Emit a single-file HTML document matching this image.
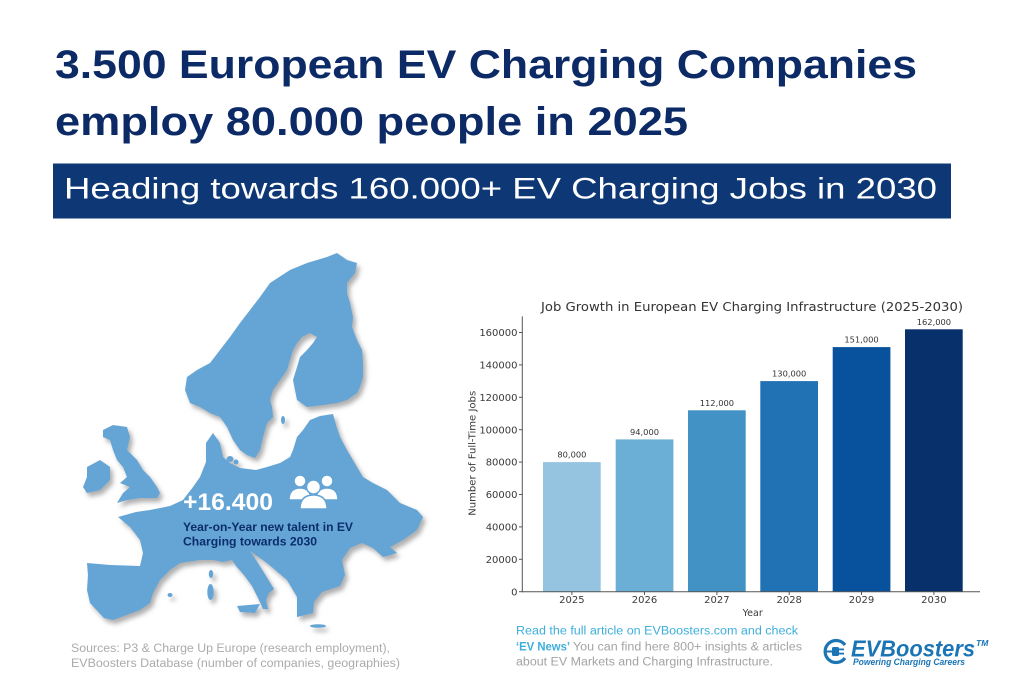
<!DOCTYPE html>
<html>
<head>
<meta charset="utf-8">
<style>
html,body{margin:0;padding:0;background:#fff;}
svg{display:block;}
</style>
</head>
<body>
<svg width="1024" height="688" viewBox="0 0 1024 688" xmlns="http://www.w3.org/2000/svg">
<defs>
<filter id="sh" x="-10%" y="-10%" width="130%" height="130%">
<feDropShadow dx="3" dy="4" stdDeviation="2.5" flood-color="#7a7a7a" flood-opacity="0.6"/>
</filter>
</defs>
<rect width="1024" height="688" fill="#fff"/>

<!-- Headline -->
<text x="55" y="78" font-family="Liberation Sans, sans-serif" font-weight="bold" font-size="40" fill="#0b2a66" textLength="862" lengthAdjust="spacingAndGlyphs">3.500 European EV Charging Companies</text>
<text x="55" y="135" font-family="Liberation Sans, sans-serif" font-weight="bold" font-size="40" fill="#0b2a66" textLength="633" lengthAdjust="spacingAndGlyphs">employ 80.000 people in 2025</text>

<rect x="53" y="163.5" width="898" height="55" fill="#0e3875"/>
<text x="64" y="198.5" font-family="Liberation Sans, sans-serif" font-size="30" fill="#fff" textLength="873" lengthAdjust="spacingAndGlyphs">Heading towards 160.000+ EV Charging Jobs in 2030</text>

<!-- Map -->
<g fill="#65a5d5" filter="url(#sh)">
<polygon points="270,283 290,270 307,263 327,257 337,253 347,260 357,263 355,273 347,283 347,293 350,303 353,317 352,327 357,340 362,350 363,363 363,377 360,387 357,393 347,400 337,403 323,405 307,407 297,400 295,390 293,380 297,367 300,357 307,350 313,343 317,337 310,333 302,337 297,343 293,350 290,360 287,370 280,380 273,390 270,400 272,407 273,417 267,423 263,437 260,450 255,458 247,455 240,450 233,440 227,427 220,417 210,413 200,407 190,403 185,390 187,377 197,370 210,363 220,350 230,337 240,323 250,310 260,297"/>
<polygon points="118,517 136,512 150,510 170,506 183,500 193,487 200,477 206,462 206,443 213,433 220,443 223,457 230,463 240,468 256,470 267,467 280,463 290,457 293,450 297,437 303,430 310,420 320,416 333,414 336,425 340,437 347,450 357,467 363,477 373,483 387,490 400,503 417,510 423,517 417,530 403,540 390,547 397,553 383,557 373,548 362,543 350,548 342,560 345,575 340,586 322,592 314,602 313,613 297,617 297,597 287,580 267,563 250,551 258,563 266,576 274,589 269,593 266,600 268,609 263,609 258,598 252,586 244,575 236,566 232,560 223,562 213,560 200,560 180,563 170,570 160,580 153,593 150,603 140,610 113,620 104,618 90,603 87,590 88,575 87,563 110,565 140,566 143,553 140,540 130,527"/>
<polygon points="103,430 113,425 127,427 130,437 127,450 137,460 143,470 150,477 157,487 160,493 157,498 140,498 127,500 117,503 123,493 130,487 120,483 127,477 123,467 117,460 113,450 110,440 103,437"/>
<polygon points="87,467 100,460 110,467 110,480 100,490 87,493 83,487 87,477"/>
<ellipse cx="211" cy="574" rx="2.2" ry="4"/>
<ellipse cx="210.5" cy="592" rx="3.2" ry="8"/>
<ellipse cx="170" cy="595" rx="2.5" ry="2"/>
<polygon points="237,606 260,604 255,613 240,612"/>
<ellipse cx="318" cy="626" rx="8" ry="1.8"/>
<ellipse cx="230" cy="459" rx="3.5" ry="3"/>
<ellipse cx="236" cy="462" rx="2.5" ry="2.5"/>
<ellipse cx="283" cy="420" rx="2" ry="4"/>
</g>

<!-- Map overlay text -->
<text x="183" y="510" font-family="Liberation Sans, sans-serif" font-weight="bold" font-size="24" fill="#fff" textLength="90" lengthAdjust="spacingAndGlyphs">+16.400</text>
<text x="183" y="531" font-family="Liberation Sans, sans-serif" font-weight="bold" font-size="11.5" fill="#0c2d6b" textLength="170" lengthAdjust="spacingAndGlyphs">Year-on-Year new talent in EV</text>
<text x="183" y="545.5" font-family="Liberation Sans, sans-serif" font-weight="bold" font-size="11.5" fill="#0c2d6b" textLength="134" lengthAdjust="spacingAndGlyphs">Charging towards 2030</text>

<!-- People icon -->
<g fill="#fff" stroke="#65a5d5" stroke-width="1.5">
<circle cx="300" cy="481" r="6"/>
<path d="M289,500 Q289,488 300,488 Q311,488 311,500 Z"/>
<circle cx="327" cy="481" r="6"/>
<path d="M316,500 Q316,488 327,488 Q338,488 338,500 Z"/>
<circle cx="313.5" cy="487" r="7"/>
<path d="M300,509 Q300,495 313.5,495 Q327,495 327,509 Z"/>
</g>

<!-- Sources -->
<text font-family="Liberation Sans, sans-serif" font-size="11.5" fill="#ababab">
<tspan x="71" y="652" textLength="319" lengthAdjust="spacingAndGlyphs">Sources: P3 &amp; Charge Up Europe (research employment),</tspan>
<tspan x="71" y="667" textLength="329" lengthAdjust="spacingAndGlyphs">EVBoosters Database (number of companies, geographies)</tspan>
</text>

<!-- Chart -->
<g font-family="DejaVu Sans, Liberation Sans, sans-serif" fill="#333">
<text x="752" y="311" font-size="12" text-anchor="middle" textLength="422" lengthAdjust="spacingAndGlyphs">Job Growth in European EV Charging Infrastructure (2025-2030)</text>

<!-- bars -->
<rect x="543" y="462.1" width="57.7" height="129.6" fill="#94c4df"/>
<rect x="615.7" y="439.4" width="57.7" height="152.3" fill="#6baed6"/>
<rect x="688" y="410.3" width="57.7" height="181.4" fill="#4292c6"/>
<rect x="760.3" y="381.1" width="57.7" height="210.6" fill="#2171b5"/>
<rect x="832.7" y="347.1" width="57.7" height="244.6" fill="#08519c"/>
<rect x="905" y="329.3" width="57.7" height="262.4" fill="#08306b"/>

<g font-size="8.3" text-anchor="middle" fill="#333">
<text x="571.9" y="457.6">80,000</text>
<text x="644.5" y="434.9">94,000</text>
<text x="716.9" y="405.8">112,000</text>
<text x="789.2" y="376.6">130,000</text>
<text x="861.5" y="342.6">151,000</text>
<text x="933.9" y="324.8">162,000</text>
</g>

<!-- axes -->
<g stroke="#555" stroke-width="1" fill="none">
<line x1="522.3" y1="316.4" x2="522.3" y2="592.2"/>
<line x1="521.8" y1="591.7" x2="980" y2="591.7"/>
<line x1="519" y1="591.7" x2="522.3" y2="591.7"/>
<line x1="519" y1="559.3" x2="522.3" y2="559.3"/>
<line x1="519" y1="526.9" x2="522.3" y2="526.9"/>
<line x1="519" y1="494.5" x2="522.3" y2="494.5"/>
<line x1="519" y1="462.1" x2="522.3" y2="462.1"/>
<line x1="519" y1="429.7" x2="522.3" y2="429.7"/>
<line x1="519" y1="397.3" x2="522.3" y2="397.3"/>
<line x1="519" y1="364.9" x2="522.3" y2="364.9"/>
<line x1="519" y1="332.5" x2="522.3" y2="332.5"/>
<line x1="571.9" y1="591.7" x2="571.9" y2="595"/>
<line x1="644.5" y1="591.7" x2="644.5" y2="595"/>
<line x1="716.9" y1="591.7" x2="716.9" y2="595"/>
<line x1="789.2" y1="591.7" x2="789.2" y2="595"/>
<line x1="861.5" y1="591.7" x2="861.5" y2="595"/>
<line x1="933.9" y1="591.7" x2="933.9" y2="595"/>
</g>

<g font-size="10" text-anchor="end" fill="#3a3a3a">
<text x="517.5" y="595.3">0</text>
<text x="517.5" y="562.9">20000</text>
<text x="517.5" y="530.5">40000</text>
<text x="517.5" y="498.1">60000</text>
<text x="517.5" y="465.7">80000</text>
<text x="517.5" y="433.3">100000</text>
<text x="517.5" y="400.9">120000</text>
<text x="517.5" y="368.5">140000</text>
<text x="517.5" y="336.1">160000</text>
</g>
<g font-size="10" text-anchor="middle" fill="#3a3a3a">
<text x="571.9" y="603">2025</text>
<text x="644.5" y="603">2026</text>
<text x="716.9" y="603">2027</text>
<text x="789.2" y="603">2028</text>
<text x="861.5" y="603">2029</text>
<text x="933.9" y="603">2030</text>
<text x="752.7" y="615.8" font-size="9.5">Year</text>
</g>
<text transform="translate(475.6,453.3) rotate(-90)" font-size="9.5" text-anchor="middle" fill="#3a3a3a" textLength="125" lengthAdjust="spacingAndGlyphs">Number of Full-Time Jobs</text>
</g>

<!-- Bottom right text -->
<g font-family="Liberation Sans, sans-serif" font-size="11.5">
<text x="516" y="634.5" fill="#3eaedb" textLength="282" lengthAdjust="spacingAndGlyphs">Read the full article on EVBoosters.com and check</text>
<text x="516" y="650.5" fill="#3eaedb" font-weight="bold" textLength="54" lengthAdjust="spacingAndGlyphs">‘EV News’</text>
<text x="573" y="650.5" fill="#a3a3a3" textLength="229" lengthAdjust="spacingAndGlyphs">You can find here 800+ insights &amp; articles</text>
<text x="516" y="665.5" fill="#a3a3a3" textLength="257" lengthAdjust="spacingAndGlyphs">about EV Markets and Charging Infrastructure.</text>
</g>

<!-- Logo -->
<g>
<path d="M845,645 A11,11 0 1 0 845,658" fill="none" stroke="#1b75b5" stroke-width="3.2"/>
<rect x="832" y="647" width="7" height="9" rx="1.5" fill="#1b75b5"/>
<rect x="839" y="648.5" width="5" height="1.8" fill="#1b75b5"/>
<rect x="839" y="652.7" width="5" height="1.8" fill="#1b75b5"/>
<line x1="826" y1="651.5" x2="832" y2="651.5" stroke="#1b75b5" stroke-width="2"/>
<text x="851" y="656.7" font-family="Liberation Sans, sans-serif" font-weight="bold" font-style="italic" font-size="23" fill="#1b75b5" textLength="124" lengthAdjust="spacingAndGlyphs">EVBoosters</text>
<text x="976" y="646" font-family="Liberation Sans, sans-serif" font-weight="bold" font-style="italic" font-size="8.5" fill="#1b75b5">TM</text>
<text x="853" y="665" font-family="Liberation Sans, sans-serif" font-weight="bold" font-style="italic" font-size="9.5" fill="#1b75b5" textLength="112" lengthAdjust="spacingAndGlyphs">Powering Charging Careers</text>
</g>
</svg>
</body>
</html>
